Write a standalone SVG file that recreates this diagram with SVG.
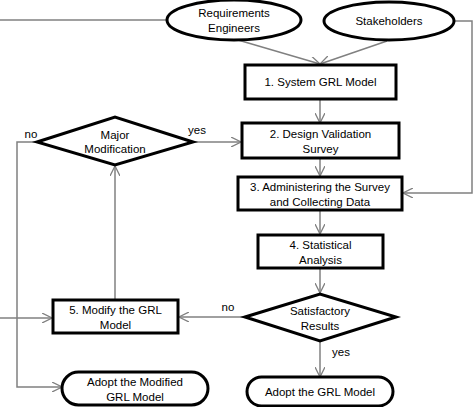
<svg xmlns="http://www.w3.org/2000/svg" width="474" height="407" viewBox="0 0 474 407">
<defs>
<style>
.n{fill:#fff;stroke:#000;stroke-width:3}
.c{fill:none;stroke:#808080;stroke-width:1.5}
text{font-family:"Liberation Sans",Arial,sans-serif;font-size:11.5px;fill:#000;text-anchor:middle}
</style>
<marker id="a" viewBox="0 0 10 10" refX="10" refY="5" markerWidth="10" markerHeight="10" markerUnits="userSpaceOnUse" orient="auto">
<path d="M0,0 L10,5 L0,10" fill="none" stroke="#808080" stroke-width="1.3"/>
</marker>
</defs>
<rect width="474" height="407" fill="#fff"/>
<g id="connectors">
<path class="c" d="M0,20 H167"/>
<path class="c" d="M238,40 L320,64" marker-end="url(#a)"/>
<path class="c" d="M387,41 L320,64" marker-end="url(#a)"/>
<path class="c" d="M320,99 V123" marker-end="url(#a)"/>
<path class="c" d="M320,158 V176" marker-end="url(#a)"/>
<path class="c" d="M455,21 H472 V193 H403" marker-end="url(#a)"/>
<path class="c" d="M320,210 V234" marker-end="url(#a)"/>
<path class="c" d="M320,268 V293" marker-end="url(#a)"/>
<path class="c" d="M320,341 V377" marker-end="url(#a)"/>
<path class="c" d="M245,317 H179" marker-end="url(#a)"/>
<path class="c" d="M0,318 H52" marker-end="url(#a)"/>
<path class="c" d="M115,300 V166" marker-end="url(#a)"/>
<path class="c" d="M193,142 H241" marker-end="url(#a)"/>
<path class="c" d="M37,142 H17 V387 H62" marker-end="url(#a)"/>
<text x="31" y="138">no</text>
<text x="197" y="134">yes</text>
<text x="228" y="311">no</text>
<text x="341" y="356">yes</text>
</g>
<g id="req-eng">
<ellipse class="n" cx="234" cy="20" rx="67" ry="20"/>
<text x="234" y="17">Requirements</text>
<text x="234" y="32">Engineers</text>
</g>
<g id="stakeholders">
<ellipse class="n" cx="389" cy="21" rx="65" ry="19"/>
<text x="389" y="25">Stakeholders</text>
</g>
<g id="box1">
<rect class="n" x="245" y="65" width="151" height="34"/>
<text x="320.5" y="86">1. System GRL Model</text>
</g>
<g id="box2">
<rect class="n" x="242" y="123" width="157" height="35"/>
<text x="320.5" y="138">2. Design Validation</text>
<text x="320.5" y="153">Survey</text>
</g>
<g id="box3">
<rect class="n" x="238" y="177" width="164" height="33"/>
<text x="320" y="191">3. Administering the Survey</text>
<text x="320" y="206">and Collecting Data</text>
</g>
<g id="box4">
<rect class="n" x="258" y="235" width="125" height="33"/>
<text x="320.5" y="249">4. Statistical</text>
<text x="320.5" y="264">Analysis</text>
</g>
<g id="satisfactory">
<polygon class="n" points="245,317 320,294 396,317 320,341"/>
<text x="320" y="315">Satisfactory</text>
<text x="320" y="330">Results</text>
</g>
<g id="adopt-grl">
<rect class="n" x="247" y="377" width="146" height="29" rx="14.5"/>
<text x="320" y="396">Adopt the GRL Model</text>
</g>
<g id="box5">
<rect class="n" x="53" y="300" width="125" height="33"/>
<text x="115.5" y="314">5. Modify the GRL</text>
<text x="115.5" y="329">Model</text>
</g>
<g id="major">
<polygon class="n" points="37,142 115,117 193,142 115,165"/>
<text x="115" y="139">Major</text>
<text x="115" y="153">Modification</text>
</g>
<g id="adopt-modified">
<rect class="n" x="62" y="372" width="146" height="33" rx="16.5"/>
<text x="135" y="386">Adopt the Modified</text>
<text x="135" y="401">GRL Model</text>
</g>
</svg>
